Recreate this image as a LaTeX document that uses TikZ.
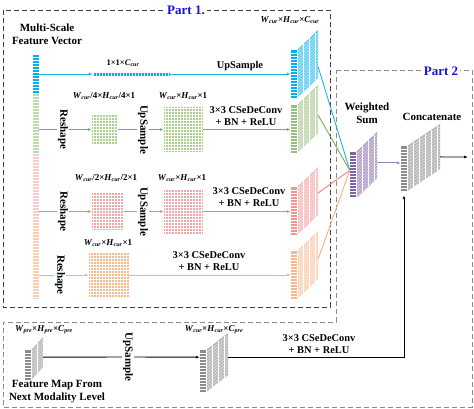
\documentclass[tikz,border=0pt]{standalone}
\usepackage{fontspec}
\setmainfont{Liberation Serif}
\usetikzlibrary{calc,arrows.meta}

\definecolor{blueD}{RGB}{0,176,240}
\definecolor{blueflowc}{RGB}{30,180,225}
\definecolor{greenD}{RGB}{170,210,140}
\definecolor{greenflowc}{RGB}{120,175,80}
\definecolor{pinkD}{RGB}{244,165,165}
\definecolor{pinkflowc}{RGB}{235,130,130}
\definecolor{orangeD}{RGB}{248,185,140}
\definecolor{orangeflowc}{RGB}{244,177,131}
\definecolor{purpleD}{RGB}{128,100,170}
\definecolor{grayD}{RGB}{140,140,140}
\definecolor{partblue}{RGB}{20,20,220}

\newcommand{\sz}[2]{\textit{#1}\textsubscript{\textit{#2}}}

% slanted feature map: name, x, y top, height, dx, dy, colour
\newcommand{\featmap}[7]{%
  \node[mapstrip, fill=#7, minimum height=#4pt] (#1) at (#2+3,#3+#4/2) {};
  \coordinate (#1-ne) at ($(#1.north east)+(#5,-#6)$);
  \coordinate (#1-se) at ($(#1.south east)+(#5,-#6)$);
  \fill[#7!60] (#1.north east) -- (#1-ne) -- (#1-se) -- (#1.south east) -- cycle;
  \foreach \k in {3,6,...,#4}
    \draw[white, line width=0.2pt] ($(#1.north east)+(0,\k)$) -- ++(#5,-#6);
  \foreach \k in {0,6,...,#5}
    \draw[white, line width=0.15pt] ($(#1.north east)+(\k,-\k*#6/#5)$) -- ++(0,#4);
  \foreach \k in {3,6,...,#4}
    \draw[white, line width=0.3pt] ($(#1.north west)+(0,\k)$) -- ++(6,0);
}

\tikzset{
  mapstrip/.style={inner sep=0pt, minimum width=6pt},
  cellsq/.style={inner sep=0pt},
  cellgrid/.style={white, line width=0.35pt, step=3pt},
  vecseg/.style={inner sep=0pt, minimum width=6pt},
  dimlabel/.style={font=\fontsize{9}{10}\selectfont\bfseries},
  oplabel/.style={font=\fontsize{10.4}{12}\selectfont\bfseries, align=center},
  vlabel/.style={font=\fontsize{11}{12}\selectfont\bfseries, rotate=-90, inner sep=1pt},
  blocktitle/.style={font=\fontsize{11}{13}\selectfont\bfseries, align=center},
  parttitle/.style={font=\fontsize{13}{15}\selectfont\bfseries, text=partblue, fill=white, inner sep=2pt},
  part1frame/.style={draw=black!75, line width=1pt, dash pattern=on 5pt off 3pt},
  part2frame/.style={draw=black!45, line width=1pt, dash pattern=on 5pt off 3pt},
  blueflow/.style={draw=blueflowc, line width=0.9pt},
  greenflow/.style={draw=greenflowc, line width=0.9pt},
  pinkflow/.style={draw=pinkflowc, line width=0.9pt},
  orangeflow/.style={draw=orangeflowc, line width=0.9pt},
  purpleflow/.style={draw=purpleD!80, line width=0.9pt},
  blackflow/.style={draw=black, line width=0.9pt},
  >={Latex[length=4pt,width=3pt]},
}

\begin{document}
\begin{tikzpicture}[x=1pt, y=-1pt]
\useasboundingbox (0,0) rectangle (474,408);

% frames
\draw[part1frame] (3,10) rectangle (330,307);
\draw[part2frame] (336,70) -- (472,70) -- (472,407) -- (3,407) -- (3,322) -- (336,322) -- cycle;
\node[parttitle] (p1) at (186,10) {Part 1.};
\node[parttitle] (p2) at (441,71) {Part 2};

% multi-scale vector
\node[blocktitle] (mstitle) at (47,34) {Multi-Scale\\Feature Vector};
\node[vecseg, fill=blueD, minimum height=39pt] (vb) at (36,73.5) {};
\node[vecseg, fill=greenD!75, minimum height=60pt] (vg) at (36,123) {};
\node[vecseg, fill=pinkD!55, minimum height=62pt] (vp) at (36,184) {};
\node[vecseg, fill=orangeD!70, minimum height=84pt] (vo) at (36,257) {};
\draw[white, line width=0.4pt, xstep=50pt, ystep=3pt] (vb.north west) grid (vo.south east);

% blue branch
\node[inner sep=0pt, minimum width=77pt, minimum height=3pt, fill=blueD] (cvec) at (131.5,74) {};
\draw[white, line width=0.6pt, xstep=3pt, ystep=20pt] (cvec.south west) grid (cvec.north east);
\node[dimlabel, font=\fontsize{8.5}{10}\selectfont\bfseries] (cveclab) at (123,63) {1×1×\sz{C}{cur}};
\featmap{bmap}{291}{50}{48}{21}{20}{blueD}
\node[dimlabel] (bmaplab) at (290,20) {\sz{W}{cur}×\sz{H}{cur}×\sz{C}{cur}};
\node[oplabel] (bup) at (240,66) {UpSample};
\draw[blueflow, ->] (vb.east |- cvec.west) -- (cvec.west);
\draw[blueflow, ->] (cvec.east) -- (cvec.east -| bmap.west);

% green branch
\node[cellsq, fill=greenD, minimum width=26pt, minimum height=31pt] (gsmall) at (105,129.5) {};
\node[cellsq, fill=greenD, minimum width=39pt, minimum height=45pt] (gbig) at (183.5,129.5) {};
\draw[cellgrid] (gsmall.south west) grid (gsmall.north east);
\draw[cellgrid] (gbig.south west) grid (gbig.north east);
\node[dimlabel] (gsmalllab) at (104,96) {\sz{W}{cur}/4×\sz{H}{cur}/4×1};
\node[dimlabel] (gbiglab) at (183,96) {\sz{W}{cur}×\sz{H}{cur}×1};
\node[vlabel] (grs) at (63,129.5) {Reshape};
\node[vlabel] (gup) at (143,129.5) {UpSample};
\featmap{gmap}{291}{105}{48}{21}{20}{greenD!90!black}
\node[oplabel] (gconv) at (246,116) {3×3 CSeDeConv\\+ BN + ReLU};
\draw[greenflow, ->] (vg.east |- gsmall.west) -- (grs) -- (gsmall);
\draw[greenflow, ->] (gsmall) -- (gup) -- (gbig);
\draw[greenflow, ->] (gbig) -- (gbig -| gmap.west);

% pink branch
\node[cellsq, fill=pinkD, minimum width=32pt, minimum height=37pt] (psmall) at (108,211.5) {};
\node[cellsq, fill=pinkD, minimum width=39pt, minimum height=45pt] (pbig) at (183.5,211.5) {};
\draw[cellgrid] (psmall.south west) grid (psmall.north east);
\draw[cellgrid] (pbig.south west) grid (pbig.north east);
\node[dimlabel] (psmalllab) at (106,178) {\sz{W}{cur}/2×\sz{H}{cur}/2×1};
\node[dimlabel] (pbiglab) at (182,178) {\sz{W}{cur}×\sz{H}{cur}×1};
\node[vlabel] (prs) at (63,211.5) {Reshape};
\node[vlabel] (pup) at (143,211.5) {UpSample};
\featmap{pmap}{291}{187}{48}{21}{20}{pinkD!90!red}
\node[oplabel] (pconv) at (249,197) {3×3 CSeDeConv\\+ BN + ReLU};
\draw[pinkflow, ->] (vp.east |- psmall.west) -- (prs) -- (psmall);
\draw[pinkflow, ->] (psmall) -- (pup) -- (pbig);
\draw[pinkflow, ->] (pbig) -- (pbig -| pmap.west);

% orange branch
\node[cellsq, fill=orangeD, minimum width=40pt, minimum height=46pt] (osq) at (109,275) {};
\draw[cellgrid] (osq.south west) grid (osq.north east);
\node[dimlabel] (osqlab) at (108,243) {\sz{W}{cur}×\sz{H}{cur}×1};
\node[vlabel] (ors) at (60,275) {Reshape};
\featmap{omap}{291}{251}{48}{21}{20}{orangeD}
\node[oplabel] (oconv) at (209,261.5) {3×3 CSeDeConv\\+ BN + ReLU};
\draw[orangeflow, ->] (vo.east |- osq.west) -- (ors) -- (osq);
\draw[orangeflow, ->] (osq) -- (osq -| omap.west);

% weighted sum and concatenate
\featmap{wsum}{350}{152}{46}{21}{20}{purpleD}
\node[blocktitle] (wslab) at (367,113.5) {Weighted\\Sum};
\coordinate (wsin) at ($(wsum.north west)!.4!(wsum.south west)$);
\draw[blueflow] ($(bmap-ne)!.77!(bmap-se)$) -- (wsin);
\draw[greenflow] ($(gmap-ne)!.63!(gmap-se)$) -- (wsin);
\draw[pinkflow] ($(pmap-ne)!.54!(pmap-se)$) -- (wsin);
\draw[orangeflow] ($(omap-ne)!.58!(omap-se)$) -- (wsin);
\featmap{cat}{401}{146}{45}{33}{22}{grayD}
\node[blocktitle] (catlab) at (432,117) {Concatenate};
\coordinate (wsout) at ($(wsum-ne)!.67!(wsum-se)$);
\draw[purpleflow, ->] (wsout) -- (wsout -| cat.west);
\coordinate (catout) at ($(cat-ne)!.73!(cat-se)$);
\coordinate (outp) at (468,157);
\draw[blackflow, ->] (catout) -- (outp);

% feature map from next modality level
\node[dimlabel] (prevlab) at (44,330) {\sz{W}{pre}×\sz{H}{pre}×\sz{C}{pre}};
\featmap{prev}{25}{350}{30}{12}{13}{grayD}
\node[vlabel] (bup2) at (128,357) {UpSample};
\featmap{upmap}{200}{350}{42}{22}{17}{grayD}
\node[dimlabel] (upmaplab) at (214,330) {\sz{W}{cur}×\sz{H}{cur}×\sz{C}{pre}};
\coordinate (prevout) at ($(prev-ne)!.67!(prev-se)$);
\draw[blackflow, ->] (prevout) -- (bup2) -- (prevout -| upmap.west);
\coordinate (upout) at ($(upmap-ne)!.57!(upmap-se)$);
\draw[blackflow, ->, shorten >=4pt] (upout) -| (cat.south);
\node[oplabel] (bconv) at (319,344.5) {3×3 CSeDeConv\\+ BN + ReLU};
\node[blocktitle] (prevtitle) at (57,391.5) {Feature Map From\\Next Modality Level};
\end{tikzpicture}
\end{document}
